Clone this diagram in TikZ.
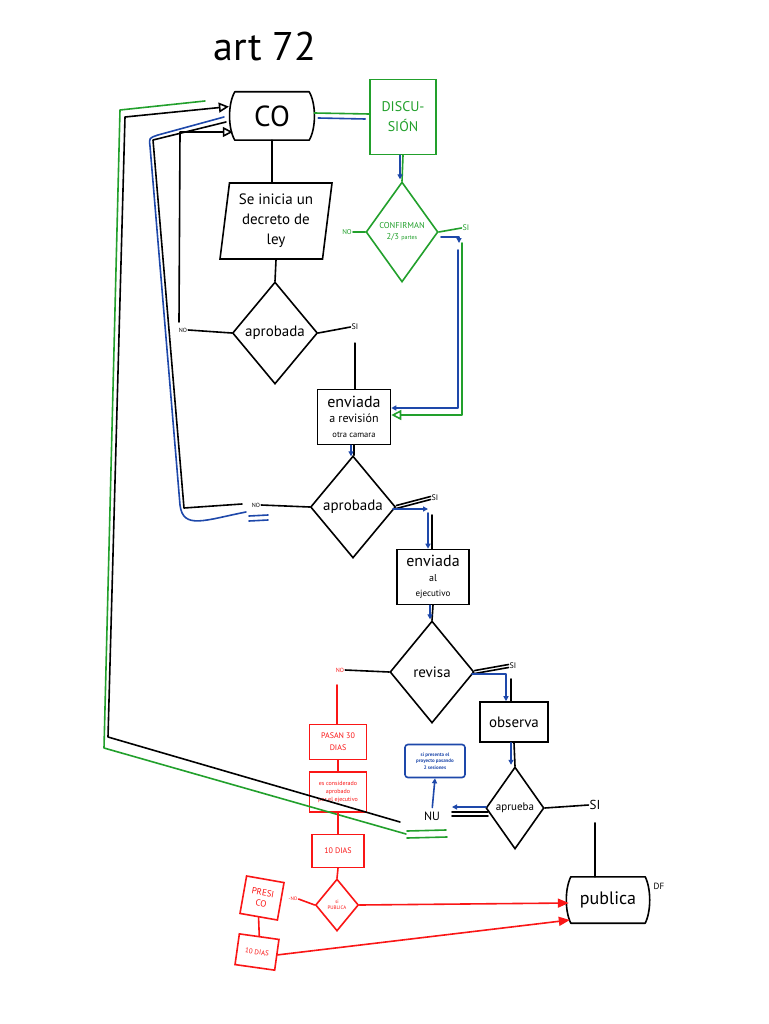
\documentclass[tikz,border=0pt]{standalone}
\usepackage{fontspec}
\setmainfont{PT Sans}
\usetikzlibrary{shapes.geometric,arrows.meta}
\definecolor{gr}{RGB}{34,160,44}
\definecolor{bl}{RGB}{30,72,170}
\definecolor{rd}{RGB}{250,22,22}
\newcommand\myfs[2]{\fontsize{#1}{#2}\selectfont}
\begin{document}
\begin{tikzpicture}[x=1pt,y=-1pt,
  every node/.style={align=center},
  ln/.style={line width=1.6pt, line join=round, line cap=round},
  kline/.style={ln, draw=black},
  gline/.style={ln, draw=gr},
  bline/.style={ln, draw=bl},
  rline/.style={ln, draw=rd},
  kbox/.style={draw=black, line width=1.6pt, inner sep=1pt},
  gbox/.style={draw=gr, text=gr, line width=1.6pt, inner sep=1pt},
  rbox/.style={draw=rd, text=rd, line width=1.6pt, inner sep=1pt},
  bbox/.style={draw=bl, text=bl, line width=1.6pt, rounded corners=3pt, inner sep=1pt},
  dia/.style={diamond, draw=black, line width=1.6pt, inner sep=0pt},
  term/.style={rectangle, inner sep=1pt},
  lab/.style={inner sep=1pt},
  oarr/.style={-{Triangle[open,length=10pt,width=10pt]}},
  barr/.style={-{Triangle[length=5pt,width=5pt]}},
  rarr/.style={-{Triangle[length=11pt,width=9pt]}},
]
\fill[white] (0,0) rectangle (768,1024);
\useasboundingbox (0,0) rectangle (768,1024);

% ---------- nodes ----------
\node[lab, font={\myfs{40}{40}}] (title) at (265,47) {art 72};
\node[term, minimum width=74, minimum height=48, font={\myfs{29}{29}}] (co) at (272,116) {CO};
\draw[kline] (co.north west) -- (co.north east)
  .. controls ([xshift=7,yshift=-12]co.north east) and ([xshift=7,yshift=12]co.south east) .. (co.south east)
  -- (co.south west)
  .. controls ([xshift=-7,yshift=12]co.south west) and ([xshift=-7,yshift=-12]co.north west) .. (co.north west) -- cycle;
\node[gbox, minimum width=66, minimum height=75, font={\myfs{14}{20}}] (disc) at (403,117) {DISCU-\\SIÓN};
\node[trapezium, trapezium left angle=80, trapezium right angle=100, trapezium stretches body,
      draw=black, line width=1.6pt, minimum width=112, minimum height=76, inner sep=0pt,
      font={\myfs{15}{20}}] (dec) at (276,221) {Se inicia un\\decreto de\\ley};

\node[dia, minimum width=85, minimum height=102] (d1) at (275,333) {};
\node[lab, font={\myfs{15}{15}}] (d1t) at (d1) {aprobada};
\node[dia, draw=gr, minimum width=72, minimum height=100] (d3) at (402,232) {};
\node[lab, text=gr, font={\myfs{8.5}{11}}] (d3t) at (d3) {CONFIRMAN\\2/3 {\myfs{6}{6}partes}};
\node[kbox, minimum width=73, minimum height=55] (env1) at (354,417) {};
\node[lab, font={\myfs{16}{16}}] (env1t) at (354,417) {enviada\\[-1pt]{\myfs{12}{13}a revisión}\\[-1pt]{\myfs{8.5}{10}otra camara}};
\node[dia, minimum width=85, minimum height=102] (d2) at (353,507) {};
\node[lab, font={\myfs{15}{15}}] (d2t) at (d2) {aprobada};
\node[kbox, minimum width=72, minimum height=55] (env2) at (433,577) {};
\node[lab, font={\myfs{16}{16}}] (env2t) at (433,577) {enviada\\[-1pt]{\myfs{10}{12}al}\\[-1pt]{\myfs{9}{11}ejecutivo}};
\node[dia, minimum width=84, minimum height=102] (d4) at (432,672) {};
\node[lab, font={\myfs{15}{15}}] (d4t) at (d4) {revisa};
\node[kbox, minimum width=68, minimum height=40, font={\myfs{15}{15}}] (obs) at (514,722) {observa};
\node[dia, minimum width=58, minimum height=82] (d5) at (515,808) {};
\node[lab, font={\myfs{11}{11}}] (d5t) at (d5) {aprueba};
\node[term, minimum width=74, minimum height=46, font={\myfs{18}{18}}] (pub) at (608,900) {publica};
\draw[kline] (pub.north west) -- (pub.north east)
  .. controls ([xshift=6,yshift=-12]pub.north east) and ([xshift=6,yshift=12]pub.south east) .. (pub.south east)
  -- (pub.south west)
  .. controls ([xshift=-6,yshift=12]pub.south west) and ([xshift=-6,yshift=-12]pub.north west) .. (pub.north west) -- cycle;
\node[lab, font={\myfs{9}{9}}] (df) at (659,886) {DF};

\node[bbox, minimum width=60, minimum height=33, font={\myfs{5}{6.5}\bfseries}] (bbox) at (435,761) {si presenta el\\proyecto pasando\\2 sesiones};

\node[rbox, minimum width=57, minimum height=35, font={\myfs{8}{12}}] (pasan) at (338,742) {PASAN 30\\DIAS};
\node[rbox, minimum width=57, minimum height=40, font={\myfs{6}{8}}] (cons) at (338,792) {es considerado\\aprobado\\por el ejecutivo};
\node[rbox, minimum width=52, minimum height=33, font={\myfs{8}{8}}] (diez) at (338,851) {10 DIAS};
\node[dia, draw=rd, minimum width=43, minimum height=52] (rdd) at (337,905) {};
\node[lab, text=rd, font={\myfs{5}{6}}] (rddt) at (rdd) {si\\PUBLICA};
\node[rbox, minimum width=38, minimum height=38, rotate=-10, font={\myfs{9}{11}}] (presi) at (262,898) {PRESI\\CO};
\node[rbox, minimum width=40, minimum height=31, rotate=-8, font={\myfs{7}{7}}] (diez2) at (257,952) {10 DIAS};

% labels
\node[lab, font={\myfs{6}{6}}] (no1) at (183,330) {NO};
\node[lab, font={\myfs{8}{8}}] (si1) at (355,327) {SI};
\node[lab, text=gr, font={\myfs{7}{7}}] (no3) at (347,232) {NO};
\node[lab, text=gr, font={\myfs{8}{8}}] (si3) at (466,228) {SI};
\node[lab, font={\myfs{6}{6}}] (no2) at (256,505) {NO};
\node[lab, font={\myfs{8}{8}}] (si2) at (435,498) {SI};
\node[lab, text=rd, font={\myfs{6}{6}}] (no4) at (340,670) {NO};
\node[lab, font={\myfs{8}{8}}] (si4) at (513,666) {SI};
\node[lab, font={\myfs{13}{13}}] (si5) at (595,805) {SI};
\node[lab, font={\myfs{12}{12}}] (nu) at (432,816) {NU};
\node[lab, text=rd, font={\myfs{5}{5}}] (no6) at (293,899) {-NO};

% ---------- connectors ----------
% CO - DISCUSION
\draw[gline] ([xshift=5,yshift=3]co.east) -- ([yshift=3]disc.west);
\draw[bline] ([xshift=9,yshift=-2]co.east) -- ([xshift=-4,yshift=-2]disc.west);
% CO - decreto - d1
\draw[kline] (co.south) -- (co.south |- dec.north);
\draw[kline] (dec.south) -- (d1.north);
% d1 NO loop
\draw[kline] (no1.east) -- (d1.west);
\coordinate (l1a) at (179,322);
\coordinate (l1b) at (180,132);
\draw[kline, oarr, shorten >=2] (l1a) -- (l1b) -- (l1b -| co.west);
% d1 SI
\draw[kline] (d1.east) -- (si1.west);
\draw[kline, shorten <=12] (si1.south) -- (si1.south |- env1.north);
% DISCUSION - d3
\draw[gline] (disc.south) -- (d3.north);
\draw[bline, barr] ([xshift=-3]disc.south) -- ++(0,24);
\draw[gline] (no3.east) -- (d3.west);
\draw[gline] (d3.east) -- (si3.west);
\coordinate (b3a) at (441,237);
\coordinate (b3b) at (459,237);
\coordinate (b3c) at (458,250);
\draw[bline, barr] (b3a) -- (b3b) -- ++(0,6);
\draw[bline, barr] (b3c) |- ([yshift=9]env1.east);
\coordinate (g3) at (462,243);
\draw[gline, oarr] (g3) |- ([yshift=2]env1.east);
% env1 - d2
\draw[kline] (env1.south) -- (env1.south |- d2.north);
\draw[bline, barr] ([xshift=-3]env1.south) -- ++(0,11);
% d2 NO loop
\draw[kline] (no2.east) -- (d2.west);
\coordinate (k2a) at (242,504);
\coordinate (k2b) at (184,508);
\coordinate (k2c) at (153,140);
\coordinate (k2d) at (226,122);
\draw[kline] (k2a) -- (k2b) -- (k2c) -- (k2d);
\coordinate (b2a) at (246,512);
\coordinate (b2b) at (180,505);
\coordinate (b2c) at (150,146);
\coordinate (b2d) at (224,117);
\draw[bline] (b2a) .. controls (205,520) and (183,530) .. (b2b) -- (b2c) .. controls (149,138) .. (158,135) -- (b2d);
\coordinate (eq1a) at (249,516); \coordinate (eq1b) at (268,515);
\coordinate (eq2a) at (249,521); \coordinate (eq2b) at (268,520);
\draw[bline] (eq1a) -- (eq1b);
\draw[bline] (eq2a) -- (eq2b);
% d2 SI
\draw[kline] ([yshift=1.5]d2.east) -- ([yshift=1.5]si2.west);
\draw[kline] ([yshift=-1.5]d2.east) -- ([yshift=-1.5]si2.west);
\coordinate (b2s) at (393,509);
\coordinate (b2t) at (428,509);
\draw[bline, barr] (b2s) -- (b2t);
\draw[bline, barr] ([yshift=-4]b2t) -- (b2t |- env2.north);
\coordinate (k2s) at (432,515);
\draw[kline] (k2s) -- (k2s |- env2.north);
% env2 - d4
\draw[kline] (env2.south) -- (d4.north);
\draw[bline, barr] ([xshift=-3]env2.south) -- ++(0,14);
% d4 NO
\draw[kline] (d4.west) -- (no4.east);
\coordinate (r4) at (337,685);
\draw[rline] (r4) -- (r4 |- pasan.north);
% d4 SI
\draw[kline] ([yshift=1.5]d4.east) -- ([yshift=1.5]si4.west);
\draw[kline] ([yshift=-1.5]d4.east) -- ([yshift=-1.5]si4.west);
\coordinate (b4a) at (472,674);
\coordinate (b4b) at (506,674);
\draw[bline, barr] (b4a) -- (b4b) -- (b4b |- obs.north);
\coordinate (k4) at (511,679);
\draw[kline] (k4) -- (k4 |- obs.north);
% obs - d5
\draw[kline] (obs.south) -- (d5.north);
\draw[bline, barr] ([xshift=-3]obs.south) -- ++(0,22);
% d5 SI
\draw[kline] (d5.east) -- (si5.west);
\draw[kline, shorten <=12] (si5.south) -- (si5.south |- pub.north);
% d5 NO
\coordinate (n5a) at (488,812); \coordinate (n5b) at (452,812);
\coordinate (n5c) at (488,816); \coordinate (n5d) at (452,816);
\draw[kline] (n5a) -- (n5b);
\draw[kline] (n5c) -- (n5d);
\coordinate (n5e) at (486,807); \coordinate (n5f) at (452,807);
\draw[bline, barr] (n5e) -- (n5f);
\draw[bline, barr, shorten <=3] (nu.north) -- (bbox.south);
% long return lines to CO
\coordinate (kr1) at (400,822);
\coordinate (kr2) at (108,737);
\coordinate (kr3) at (125,117);
\draw[kline, oarr, shorten >=6] (kr1) -- (kr2) -- (kr3) -- ([yshift=10]co.west);
\coordinate (gr1) at (406,834);
\coordinate (gr2) at (104,748);
\coordinate (gr3) at (120,110);
\coordinate (gr4) at (205,101);
\draw[gline] (gr1) -- (gr2) -- (gr3) -- (gr4);
\coordinate (ge1a) at (407,831); \coordinate (ge1b) at (446,830);
\coordinate (ge2a) at (407,838); \coordinate (ge2b) at (447,837);
\draw[gline] (ge1a) -- (ge1b);
\draw[gline] (ge2a) -- (ge2b);
% red chain
\draw[rline] (pasan.south) -- (cons.north);
\draw[rline] (cons.south) -- (diez.north);
\draw[rline] (diez.south) -- (rdd.north);
\draw[rline] (no6.east) -- (rdd.west);
\draw[rline, rarr] (rdd.east) -- ([xshift=-2,yshift=-3]pub.west);
\draw[rline] (presi.south) -- (diez2.north);
\draw[rline, rarr] (diez2.east) -- ([xshift=-1,yshift=-20]pub.west);
\end{tikzpicture}
\end{document}
